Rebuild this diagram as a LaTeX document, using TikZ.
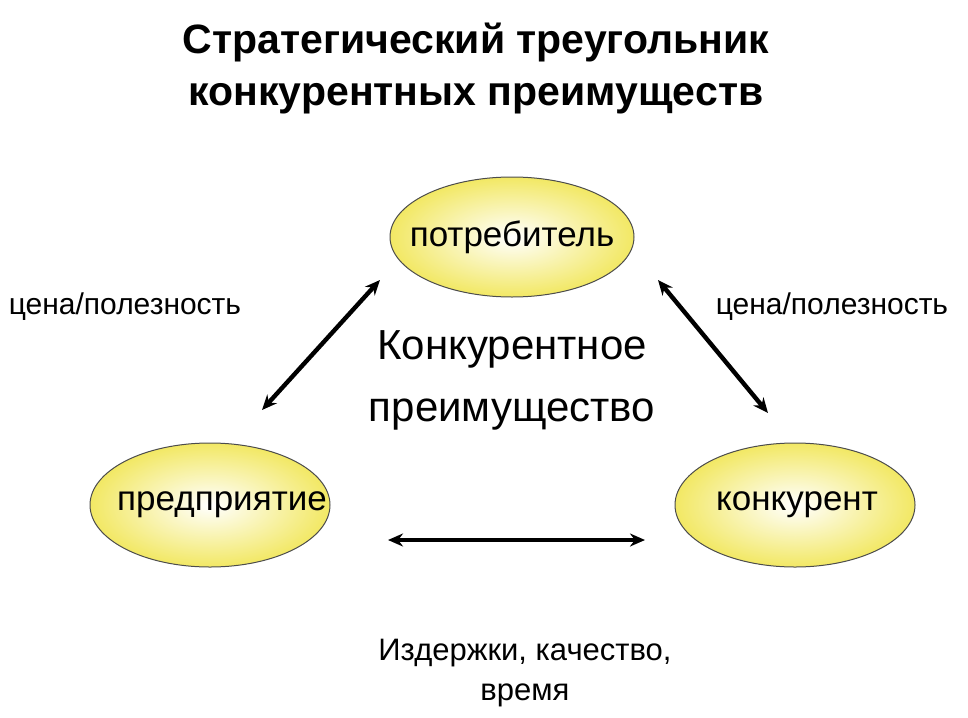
\documentclass[tikz,border=0pt]{standalone}
\usepackage{fontspec}
\setmainfont{Liberation Sans}
\usetikzlibrary{shapes.geometric,arrows.meta}
\definecolor{ell}{RGB}{242,232,100}
\begin{document}
\begin{tikzpicture}[x=1pt,y=-1pt,
  oval/.style={ellipse,draw=black!70,line width=1pt,inner color=white,outer color=ell,minimum width=244pt,minimum height=120pt,inner sep=0pt},
  arr/.style={{Stealth[length=15pt,width=13pt]}-{Stealth[length=15pt,width=13pt]},line width=4.4pt},
  lbl/.style={font=\fontsize{30}{36}\selectfont,align=center}]
\useasboundingbox (0,0) rectangle (968,717);
\node[font=\fontsize{41}{52}\selectfont\bfseries,align=center] (title) at (476,68) {Стратегический треугольник\\конкурентных преимуществ};
\node[oval] (p) at (512,237) {};
\node[oval,minimum height=124pt,minimum width=240pt] (e) at (210,505) {};
\node[oval,minimum height=124pt,minimum width=240pt] (k) at (795,505) {};
\node[font=\fontsize{35}{40}\selectfont] at (512,237) {потребитель};
\node[font=\fontsize{35}{40}\selectfont] at (222,505) {предприятие};
\node[font=\fontsize{35}{40}\selectfont] at (797,505) {конкурент};
\node[font=\fontsize{42}{62}\selectfont,align=center] (ka) at (512,380) {Конкурентное\\преимущество};
\node[lbl] (l1) at (125,307) {цена/полезность};
\node[lbl] (l2) at (832,307) {цена/полезность};
\node[lbl,font=\fontsize{31}{40}\selectfont] (l3) at (525,673) {Издержки, качество,\\время};
\coordinate (a1) at (380,280); \coordinate (a2) at (262,410);
\coordinate (b1) at (658,280); \coordinate (b2) at (768,413);
\coordinate (c1) at (388,540); \coordinate (c2) at (645,540);
\draw[arr] (a1) -- (a2);
\draw[arr] (b1) -- (b2);
\draw[arr] (c1) -- (c2);
\end{tikzpicture}
\end{document}
